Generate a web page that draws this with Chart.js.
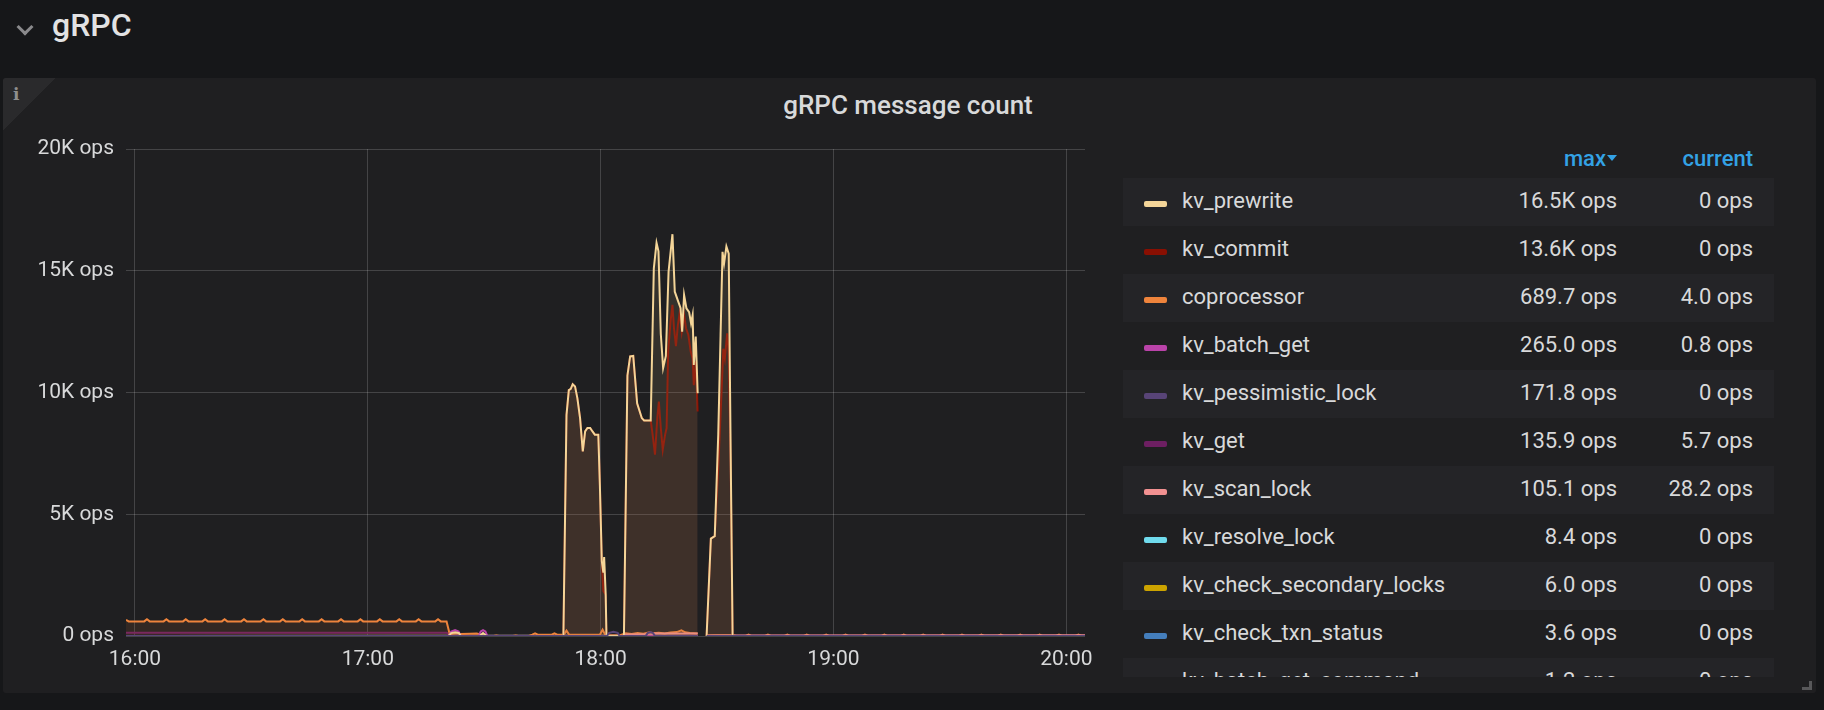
<!DOCTYPE html>
<html>
<head>
<meta charset="utf-8">
<script src="https://cdn.jsdelivr.net/npm/chart.js@4.4.0/dist/chart.umd.min.js"></script>
<style>
  html, body { margin:0; padding:0; width:1824px; height:710px; overflow:hidden; background:#161719; font-family:Roboto, 'Noto Sans', sans-serif; color:#d8d9da; }
  .chev { position:absolute; left:19px; top:21px; width:12px; height:12px; box-sizing:border-box; border-right:3px solid #8a8a8c; border-bottom:3px solid #8a8a8c; transform:rotate(45deg); }
  .row-title { position:absolute; left:52px; top:6px; font-size:32px; font-weight:500; color:#e2e2e3; }
  .panel { position:absolute; left:3px; top:78px; width:1813px; height:615px; background:#1f1f21; border-radius:3px; }
  .corner { position:absolute; left:3px; top:78px; width:52px; height:52px; background:linear-gradient(135deg, #2a2a2c 50%, transparent 50%); border-top-left-radius:3px; }
  .info { position:absolute; left:13px; top:84px; font-family:'DejaVu Serif', serif; font-weight:bold; font-size:17px; color:#8e8e8e; }
  .ptitle { position:absolute; left:0; width:1816px; top:90px; text-align:center; font-size:26px; font-weight:500; color:#d8d9da; }
  #chart-box { position:absolute; left:0; top:120px; width:1100px; height:570px; }
  #legend { position:absolute; left:1123px; top:140px; width:651px; height:537px; overflow:hidden; }
  .lg-head { position:relative; height:38px; }
  .lg-head span { position:absolute; top:6px; font-size:22px; font-weight:500; color:#33a2e5; }
  .lg-row { position:relative; height:48px; }
  .lg-row.odd { background:#242427; }
  .lg-sw { position:absolute; left:21px; top:23px; width:23px; height:6px; border-radius:2px; }
  .lg-name, .lg-max, .lg-cur { position:absolute; top:10px; font-size:22px; color:#d8d9da; white-space:nowrap; }
  .lg-name { left:59px; }
  .lg-max { right:157px; }
  .lg-cur { right:21px; }
  .caret { display:inline-block; width:0; height:0; border-left:5px solid transparent; border-right:5px solid transparent; border-top:6px solid #33a2e5; vertical-align:middle; margin-left:1px; position:relative; top:-2px; }
  .handle { position:absolute; left:1802px; top:681px; width:10px; height:9px; box-sizing:border-box; border-right:3px solid #58585a; border-bottom:3px solid #58585a; }
</style>
</head>
<body>
<div class="chev"></div>
<div class="row-title">gRPC</div>
<div class="panel"></div>
<div class="corner"></div>
<div class="info">i</div>
<div class="ptitle">gRPC message count</div>
<div id="chart-box"><canvas id="grpc-chart"></canvas></div>
<div id="legend"></div>
<div class="handle"></div>

<script>
// ─── gRPC message count ───────────────────────────────────────
// x = minutes after 16:00, y = ops

const xMin = -2.3;
const xMax = 244.8;
const yTicks = [0, 5000, 10000, 15000, 20000];
const xTickHours = ['16:00', '17:00', '18:00', '19:00', '20:00'];

const kvPrewrite = [
  [-2.3,0],[80.8,0],[81.5,120],[82.5,150],[83.5,120],[84.0,0],[88.8,0],[89.7,120],[90.6,0],
  [110.4,0],[111.2,9080],[111.8,10100],[112.3,10150],[112.8,10340],[113.4,10250],[114.0,9770],[114.7,8950],
  [115.4,7580],[116.0,8400],[116.6,8540],[117.3,8540],[117.9,8400],[118.5,8270],[119.4,8270],[119.8,6200],
  [120.3,3070],[120.7,2600],[120.9,3240],[121.3,1700],[121.5,0],
  [126.0,0],[126.9,10700],[127.6,11480],[128.4,11500],[129.4,9560],[130.6,8950],[131.2,8850],[132.9,8850],
  [133.7,15100],[134.4,16150],[134.9,15800],[135.5,12400],[136.1,11000],[136.8,11500],[137.5,14960],[138.5,16500],
  [139.1,14140],[140.0,13730],[140.6,13460],[141.0,12500],[141.5,14000],[142.1,13460],[142.8,13300],[143.3,12840],
  [143.7,13180],[144.0,11130],[144.5,12300],[145.0,9970],
  [146.2,null],
  [147.3,0],[148.4,4000],[149.4,4100],[150.3,8260],[150.9,12360],[151.4,15780],[151.8,15300],[152.4,16000],
  [153.0,15700],[153.5,7580],[154.0,0],[244.8,0],
];

const kvCommit = [
  [-2.3,0],[110.4,0],[111.2,9080],[111.8,10100],[112.3,10150],[112.8,10340],[113.4,10250],[114.0,9770],[114.7,8950],
  [115.4,7580],[116.0,8400],[116.6,8540],[117.3,8540],[117.9,8400],[118.5,8270],[119.4,8270],[119.8,6200],
  [120.3,3070],[120.7,1850],[121.3,1700],[121.5,0],
  [126.0,0],[126.9,10700],[127.6,11480],[128.4,11500],[129.4,9560],[130.6,8950],[131.2,8850],[132.9,8850],
  [133.4,8260],[134.0,7450],[134.6,8950],[135.0,9630],[135.5,8540],[136.0,7650],[136.6,8260],[137.0,8540],
  [137.4,11680],[138.0,12900],[138.5,13600],[138.9,12640],[139.4,11900],[139.9,12770],[140.4,13300],[140.9,12500],
  [141.5,13180],[142.0,12640],[142.6,12360],[143.2,11680],[143.7,11400],[144.0,10300],[144.5,11270],[145.0,9220],
  [146.2,null],
  [147.3,0],[148.4,4000],[149.4,4100],[150.3,6900],[151.2,10200],[151.6,11800],[152.0,11400],[152.6,12430],
  [153.0,11700],[153.5,7000],[154.0,0],[244.8,0],
];

const coprocessor = [
  [-2.3,660],[-1.6,600],
  [2.4,600],[3.1,690],[3.8,600],[7.4,600],[8.1,690],[8.8,600],[12.4,600],[13.1,690],[13.8,600],
  [17.4,600],[18.1,690],[18.8,600],[22.4,600],[23.1,690],[23.8,600],[27.4,600],[28.1,690],[28.8,600],
  [32.4,600],[33.1,690],[33.8,600],[37.4,600],[38.1,690],[38.8,600],[42.4,600],[43.1,690],[43.8,600],
  [47.4,600],[48.1,690],[48.8,600],[52.4,600],[53.1,690],[53.8,600],[57.4,600],[58.1,690],[58.8,600],
  [62.4,600],[63.1,690],[63.8,600],[67.4,600],[68.1,690],[68.8,600],[72.4,600],[73.1,690],[73.8,600],
  [77.4,600],[78.1,690],[78.8,600],[80.3,600],[81.1,80],
  [83.1,110],[83.8,85],[86.4,95],[88.1,100],[89.0,60],[90.5,0],[92.4,0],[93.1,20],[93.8,0],[97.4,0],[98.1,20],[98.8,0],
  [101.5,0],[102.4,55],[103.1,110],[103.8,55],[107.4,55],[108.1,110],[108.8,55],[110.5,55],[111.2,220],[111.9,50],
  [119.8,50],[120.5,260],[121.2,40],[125.0,30],[126.5,110],[128.0,80],[129.5,120],[131.0,90],[132.6,150],[133.5,110],
  [135.0,130],[136.5,100],[138.0,140],[139.6,160],[140.8,230],[141.8,150],[143.0,120],[145.0,100],
  [146.2,null],
  [147.3,20],[150.0,35],[154.0,30],[155.0,3],
  [157.4,3],[158.1,60],[158.8,3],[162.4,3],[163.1,60],[163.8,3],[167.4,3],[168.1,60],[168.8,3],
  [172.4,3],[173.1,60],[173.8,3],[177.4,3],[178.1,60],[178.8,3],[182.4,3],[183.1,60],[183.8,3],
  [187.4,3],[188.1,60],[188.8,3],[192.4,3],[193.1,60],[193.8,3],[197.4,3],[198.1,60],[198.8,3],
  [202.4,3],[203.1,60],[203.8,3],[207.4,3],[208.1,60],[208.8,3],[212.4,3],[213.1,60],[213.8,3],
  [217.4,3],[218.1,60],[218.8,3],[222.4,3],[223.1,60],[223.8,3],[227.4,3],[228.1,60],[228.8,3],
  [232.4,3],[233.1,60],[233.8,3],[237.4,3],[238.1,60],[238.8,3],[242.4,3],[243.1,60],[243.8,3],[244.8,4],
];

const kvBatchGet = [
  [-2.3,0],[80.9,0],[81.5,180],[82.5,240],[83.4,180],[83.9,0],[88.6,0],[89.1,190],[89.7,245],[90.3,190],[90.8,0],
  [145.0,0],[146.2,null],[147.3,0],[244.8,0.8],
];

const kvPessimisticLock = [
  [-2.3,0],[121.6,0],[122.2,130],[123.3,172],[124.4,130],[124.9,0],[131.6,0],[132.1,120],[132.8,160],[133.5,120],[134.0,0],
  [145.0,0],[146.2,null],[147.3,0],[244.8,0],
];

const kvGet = [
  [-2.3,130],[80.4,130],[81.1,10],[145.0,10],[146.2,null],[147.3,6],[244.8,5.7],
];

const kvScanLock = [
  [-2.3,0],[125.8,0],[126.5,60],[133.2,70],[133.6,100],[144.8,105],[145.0,100],[146.2,null],[147.3,20],[244.8,28.2],
];

const kvResolveLock          = [[-2.3,0],[133.0,8.4],[145.0,0],[146.2,null],[147.3,0],[244.8,0]];
const kvCheckSecondaryLocks  = [[-2.3,0],[137.0,6],[145.0,0],[146.2,null],[147.3,0],[244.8,0]];
const kvCheckTxnStatus       = [[-2.3,0],[134.0,3.6],[145.0,0],[146.2,null],[147.3,0],[244.8,0]];
const kvBatchGetCommand      = [[-2.3,0],[82.0,1.2],[145.0,0],[146.2,null],[147.3,0],[244.8,0]];

// legend (sorted by max, as on the dashboard)
const seriesNames = ['kv_prewrite','kv_commit','coprocessor','kv_batch_get','kv_pessimistic_lock','kv_get',
                     'kv_scan_lock','kv_resolve_lock','kv_check_secondary_locks','kv_check_txn_status','kv_batch_get_command'];
const seriesData  = [kvPrewrite, kvCommit, coprocessor, kvBatchGet, kvPessimisticLock, kvGet,
                     kvScanLock, kvResolveLock, kvCheckSecondaryLocks, kvCheckTxnStatus, kvBatchGetCommand];
const seriesColors = ['#F4D598','#890F02','#EF843C','#BA43A9','#584477','#6D1F62',
                      '#F29191','#70DBED','#CCA300','#447EBC','#C15C17'];
const maxText     = ['16.5K ops','13.6K ops','689.7 ops','265.0 ops','171.8 ops','135.9 ops',
                     '105.1 ops','8.4 ops','6.0 ops','3.6 ops','1.2 ops'];
const currentText = ['0 ops','0 ops','4.0 ops','0.8 ops','0 ops','5.7 ops',
                     '28.2 ops','0 ops','0 ops','0 ops','0 ops'];

// first entry ends up on top
const drawOrder = [4, 0, 1, 3, 6, 2, 5, 7, 8, 9, 10];

// ── Legend table ──────────────────────────────────────────────

function renderLegend() {
  const el = document.getElementById('legend');
  let html = `<div class="lg-head">
      <span style="right:157px">max<i class="caret"></i></span>
      <span style="right:21px">current</span>
    </div>`;
  seriesNames.forEach((name, i) => {
    html += `<div class="lg-row ${i % 2 === 0 ? 'odd' : ''}">
        <div class="lg-sw" style="background:${seriesColors[i]}"></div>
        <div class="lg-name">${name}</div>
        <div class="lg-max">${maxText[i]}</div>
        <div class="lg-cur">${currentText[i]}</div>
      </div>`;
  });
  el.innerHTML = html;
}

// ── Chart ─────────────────────────────────────────────────────

const GRID = 'rgba(255,255,255,0.17)';
const TICK_FONT = { family: 'Roboto', size: 21 };

const datasets = drawOrder.map(i => ({
  label:           seriesNames[i],
  data:            seriesData[i],
  borderColor:     seriesColors[i],
  backgroundColor: seriesColors[i] + '1a',
  borderWidth:     2,
  fill:            'origin',
  pointRadius:     0,
  tension:         0,
  spanGaps:        false,
}));

new Chart(document.getElementById('grpc-chart'), {
  type: 'line',
  data: { datasets },
  options: {
    responsive:          true,
    maintainAspectRatio: false,
    animation:           false,
    layout: { padding: { top: 29, bottom: 14, left: 0, right: 15 } },
    plugins: { legend: { display: false }, tooltip: { enabled: false } },
    scales: {
      x: {
        type: 'linear',
        min: xMin,
        max: xMax,
        // fixed height, and no extra side padding for the last label
        afterFit: s => { s.height = 40; s.paddingLeft = 0; s.paddingRight = 0; },
        border: { display: false },
        grid: { color: GRID, drawTicks: false },
        ticks: {
          stepSize: 60,
          includeBounds: false,
          autoSkip: false,
          maxRotation: 0,
          padding: 11,
          color: '#d8d9da',
          font: TICK_FONT,
          callback: v => xTickHours[Math.round(v / 60)],
        },
      },
      y: {
        min: yTicks[0],
        max: yTicks[yTicks.length - 1],
        afterFit: s => { s.width = 126; },
        afterBuildTicks: s => { s.ticks = yTicks.map(v => ({ value: v })); },
        border: { display: false },
        grid: { color: GRID, drawTicks: false },
        ticks: {
          padding: 12,
          color: '#d8d9da',
          font: TICK_FONT,
          callback: v => v === 0 ? '0 ops' : (v / 1000) + 'K ops',
        },
      },
    },
  },
});

renderLegend();
</script>
</body>
</html>
